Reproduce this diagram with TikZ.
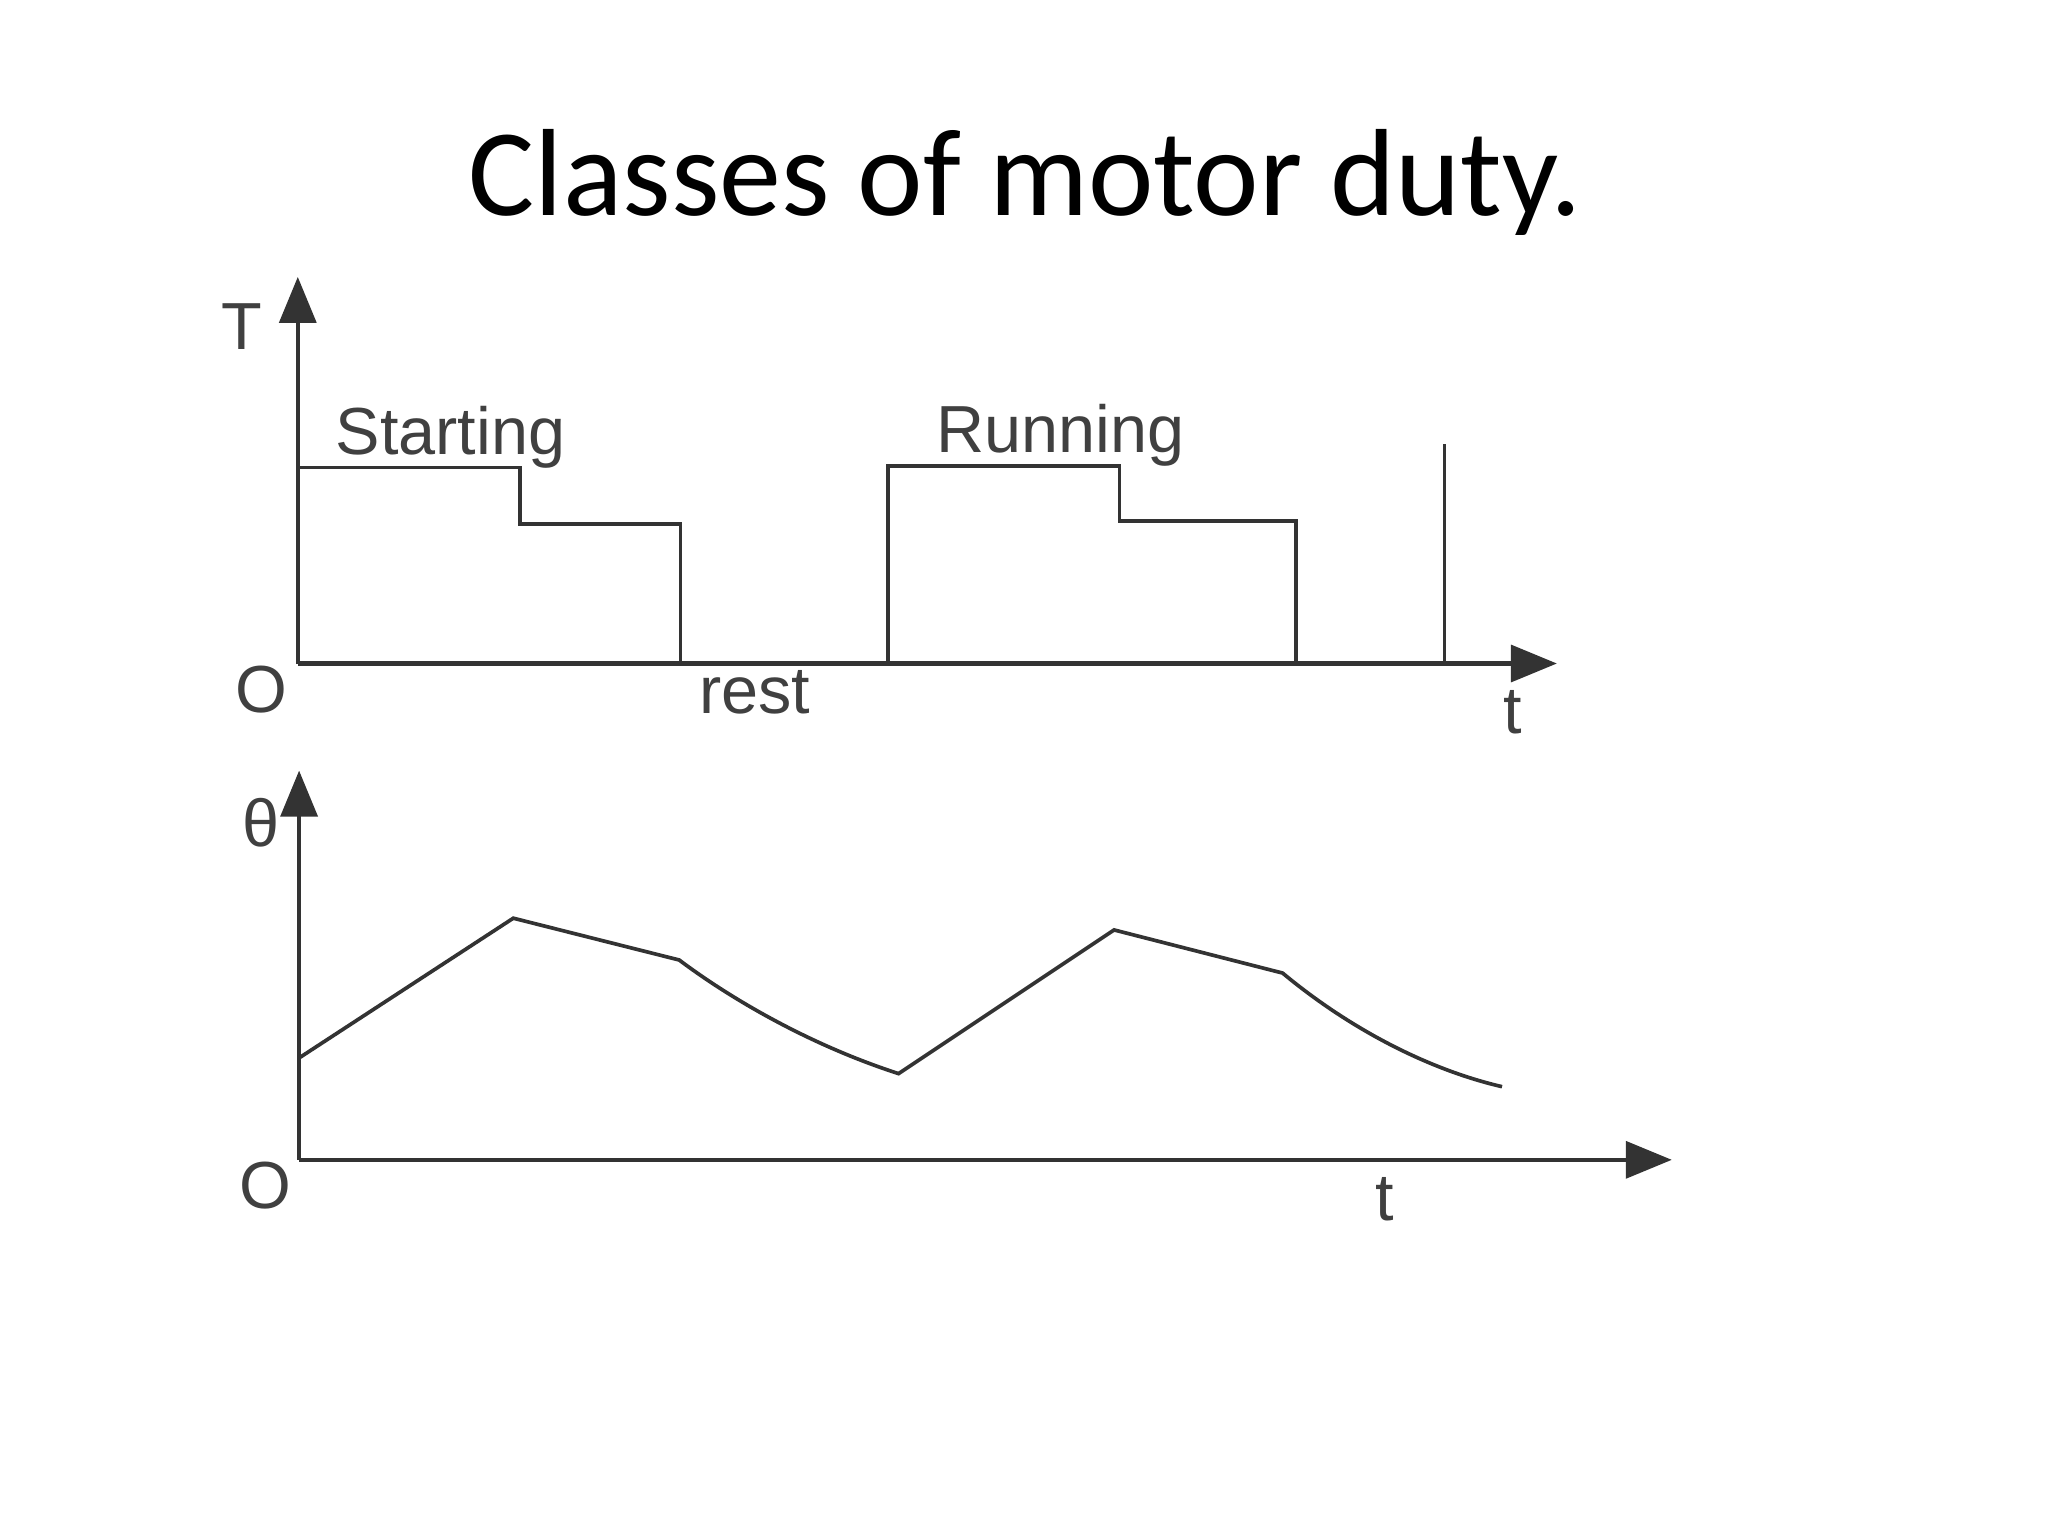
\documentclass[tikz,border=0pt]{standalone}
\usepackage{fontspec}
\setmainfont{Liberation Sans}
\newfontfamily\titlefont{Carlito}
\usetikzlibrary{arrows.meta}
\begin{document}
\begin{tikzpicture}[x=0.01cm,y=-0.01cm,
  axis/.style={line width=0.9pt,draw=black!80,-{Triangle[length=10pt,width=8pt]}},
  plot/.style={line width=0.8pt,draw=black!80},
  lbl/.style={font=\fontsize{14.5}{16}\selectfont,text=black!75}]
\useasboundingbox (0,0) rectangle (1568,1176);
\node[font=\titlefont\fontsize{27}{32}\selectfont] (title) at (785,140) {Classes of motor duty.};
% top plot
\coordinate (o1) at (228,508);
\coordinate (ty) at (228,212);
\coordinate (tx) at (1192,508);
\draw[axis] (o1) -- (ty);
\draw[axis] (o1) -- (tx);
\draw[plot] (228,358) -- (398,358) -- (398,401) -- (521,401) -- (521,508);
\draw[plot] (680,508) -- (680,357) -- (857,357) -- (857,399) -- (992,399) -- (992,508);
\draw[plot] (1106,508) -- (1106,340);
\node[lbl] (T) at (185,250) {T};
\node[lbl] (st) at (345,335) {Starting};
\node[lbl] (ru) at (812,333) {Running};
\node[lbl] (O1) at (200,528) {O};
\node[lbl] (rest) at (578,530) {rest};
\node[lbl] (t1) at (1158,545) {t};
% bottom plot
\coordinate (o2) at (229,888);
\coordinate (by) at (229,590);
\coordinate (bx) at (1280,888);
\draw[axis] (o2) -- (by);
\draw[axis] (o2) -- (bx);
\draw[plot] (229,810) -- (393,703) -- (520,735) .. controls (560,765) and (620,800) .. (688,822) -- (853,712) -- (982,745) .. controls (1030,785) and (1090,818) .. (1150,832);
\node[lbl] (th) at (200,630) {θ};
\node[lbl] (O2) at (203,908) {O};
\node[lbl] (t2) at (1060,918) {t};
\end{tikzpicture}
\end{document}
